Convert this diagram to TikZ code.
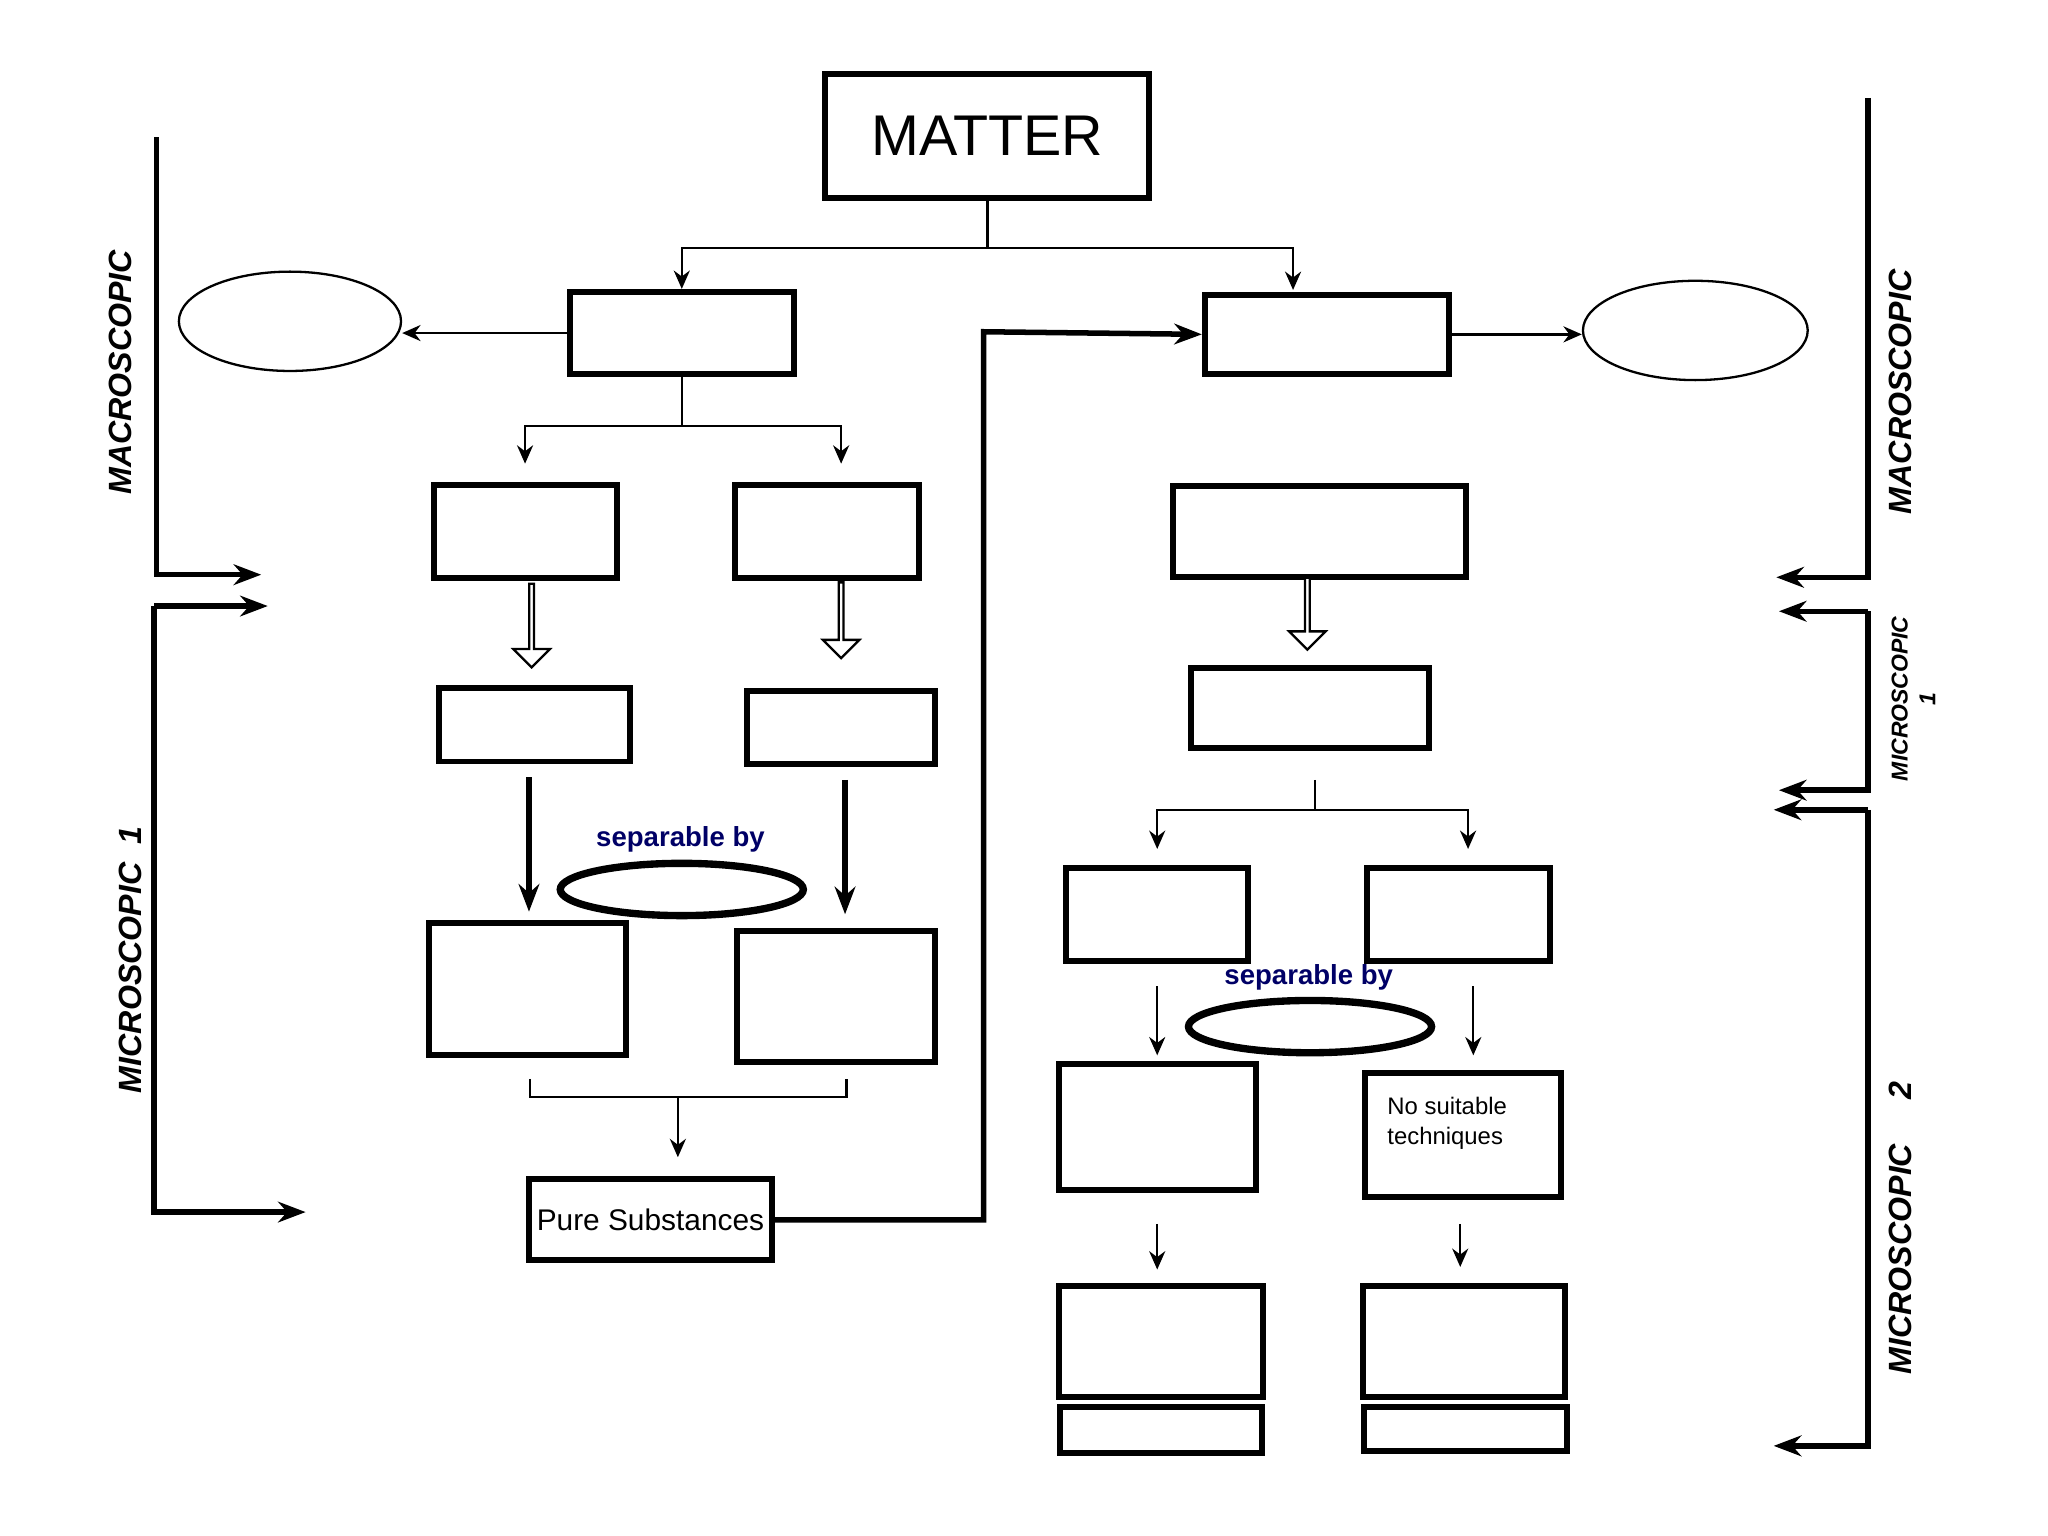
\documentclass[tikz,border=0pt]{standalone}
\usepackage{fontspec}
\setmainfont{Liberation Sans}
\usetikzlibrary{arrows.meta,shapes.arrows,shapes.geometric}
\begin{document}
\begin{tikzpicture}[x=0.01cm,y=-0.01cm,
 bx/.style={draw,line width=1.3pt,inner sep=0pt},
 thin/.style={line width=0.5pt,-{Stealth[length=4pt,width=3.5pt]}},
 thk/.style={line width=1.2pt,-{Stealth[length=6pt,width=4.5pt]}},
 hol/.style={draw,line width=0.5pt,fill=white,single arrow,shape border rotate=270,minimum width=0.28cm,single arrow head extend=0.06cm,inner sep=0pt},
 sep/.style={text=blue!40!black,font=\bfseries\fontsize{6}{7}\selectfont},
 side/.style={font=\bfseries\itshape\fontsize{7}{8}\selectfont,rotate=90}]
\useasboundingbox (0,0) rectangle (1568,1176);
\node[bx,minimum width=2.48cm,minimum height=0.95cm,font=\fontsize{12.5}{14}\selectfont] (m) at (756,104) {MATTER};
\node[bx,minimum width=1.71cm,minimum height=0.63cm] (a) at (522,255) {};
\node[bx,minimum width=1.87cm,minimum height=0.60cm] (b) at (1016,256) {};
\node[draw,line width=0.5pt,ellipse,minimum width=1.70cm,minimum height=0.76cm] (el) at (222,246) {};
\node[draw,line width=0.5pt,ellipse,minimum width=1.72cm,minimum height=0.76cm] (er) at (1298,253) {};
\draw[thin] (m.south) -- (756,190) -| (a.north);
\draw[thin] (756,190) -| (990,222);
\draw[thin] (a.west) -- (el.east |- a.west);
\draw[thin] (b.east) -- (er.west |- b.east);
% left column
\node[bx,minimum width=1.40cm,minimum height=0.71cm] (l1) at (402,407) {};
\node[bx,minimum width=1.41cm,minimum height=0.71cm] (l2) at (633,407) {};
\draw[thin] (a.south) -- (522,326) -| (402,355);
\draw[thin] (522,326) -| (644,355);
\node[hol,minimum height=0.64cm] (h1) at (407,478) {};
\node[hol,minimum height=0.58cm] (h2) at (644,474) {};
\node[bx,minimum width=1.46cm,minimum height=0.56cm] (l3) at (409,555) {};
\node[bx,minimum width=1.44cm,minimum height=0.56cm] (l4) at (644,557) {};
\coordinate (t1) at (405,595); \coordinate (t2) at (647,597);
\node[bx,minimum width=1.51cm,minimum height=1.01cm] (l5) at (404,757) {};
\node[bx,minimum width=1.51cm,minimum height=1.00cm] (l6) at (640,763) {};
\draw[thk] (t1) -- (405,698);
\draw[thk] (t2) -- (647,700);
\node[sep] (s1) at (521,643) {separable by};
\node[draw,line width=1.6pt,ellipse,minimum width=1.86cm,minimum height=0.40cm] (e1) at (522,681) {};
\coordinate (br1) at (406,826); \coordinate (br2) at (648,826);
\draw[line width=0.5pt] (br1) -- (406,840) -- (648,840) -- (br2);
\node[bx,minimum width=1.86cm,minimum height=0.62cm,font=\fontsize{6.5}{8}\selectfont] (p) at (498,934) {Pure Substances};
\draw[thin] (519,840) -- (519,886);
\draw[thk] (p.east) -- (753,934) -- (753,254) -- (b.west);
% right column
\node[bx,minimum width=2.24cm,minimum height=0.70cm] (r1) at (1010,407) {};
\node[hol,minimum height=0.55cm] (h3) at (1001,469) {};
\node[bx,minimum width=1.82cm,minimum height=0.61cm] (r2) at (1003,542) {};
\coordinate (rs) at (1007,597);
\node[bx,minimum width=1.39cm,minimum height=0.71cm] (r3) at (886,700) {};
\node[bx,minimum width=1.40cm,minimum height=0.71cm] (r4) at (1117,700) {};
\draw[line width=0.5pt] (rs) -- (1007,620);
\draw[thin] (1007,620) -| (886,650);
\draw[thin] (1007,620) -| (1124,650);
\node[sep] (s2) at (1002,748) {separable by};
\node[draw,line width=1.6pt,ellipse,minimum width=1.86cm,minimum height=0.40cm] (e2) at (1003,786) {};
\node[bx,minimum width=1.51cm,minimum height=0.96cm] (r5) at (886,863) {};
\node[bx,minimum width=1.50cm,minimum height=0.95cm,font=\fontsize{5.2}{6.5}\selectfont] (r6) at (1120,869) {};
\node[align=left,font=\fontsize{5.2}{6.5}\selectfont,inner sep=0pt] (r6t) at (1108,860) {No suitable\\techniques};
\coordinate (u1) at (886,755); \coordinate (u2) at (1128,755);
\draw[thin] (u1) -- (886,808);
\draw[thin] (u2) -- (1128,808);
\node[bx,minimum width=1.56cm,minimum height=0.85cm] (r7) at (889,1027) {};
\node[bx,minimum width=1.55cm,minimum height=0.35cm] (r7b) at (889,1095) {};
\node[bx,minimum width=1.55cm,minimum height=0.85cm] (r8) at (1121,1027) {};
\node[bx,minimum width=1.56cm,minimum height=0.34cm] (r8b) at (1122,1094) {};
\draw[thin] (886,937) -- (886,972);
\draw[thin] (1118,937) -- (1118,970);
% left side
\coordinate (lt) at (120,105); \coordinate (lb) at (118,928);
\draw[thk] (lt) -- (120,440) -- (200,440);
\draw[thk] (118,464) -- (205,464);
\draw[thk] (118,464) -- (lb) -- (234,928);
\node[side] (tm) at (92,285) {MACROSCOPIC};
\node[side] (tn) at (100,735) {MICROSCOPIC~~1};
% right side
\coordinate (rt) at (1430,75);
\draw[thk] (rt) -- (1430,442) -- (1360,442);
\draw[thk] (1430,468) -- (1362,468);
\draw[thk] (1430,468) -- (1430,605) -- (1362,605);
\draw[thk] (1430,620) -- (1358,620);
\draw[thk] (1430,620) -- (1430,1107) -- (1358,1107);
\node[side] (tr1) at (1455,300) {MACROSCOPIC};
\node[side,align=center,font=\bfseries\itshape\fontsize{5}{6}\selectfont] (tr2) at (1465,535) {MICROSCOPIC\\1};
\node[side] (tr3) at (1455,940) {MICROSCOPIC~~~~~2};
\end{tikzpicture}
\end{document}
